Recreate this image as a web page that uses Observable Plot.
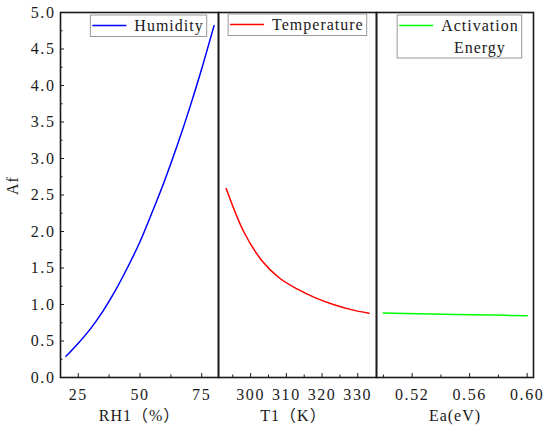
<!DOCTYPE html>
<html>
<head>
<meta charset="utf-8">
<script src="https://cdn.jsdelivr.net/npm/d3@7"></script>
<script src="https://cdn.jsdelivr.net/npm/@observablehq/plot@0.6"></script>
<style>
  html, body { margin: 0; padding: 0; background: #fff; }
  #chart { position: relative; width: 550px; height: 435px; overflow: hidden; background: #fff; }
  #chart svg { position: absolute; top: 0; overflow: visible; }
  #chart svg text { letter-spacing: 1px; }
  #chart svg g[aria-label$="tick label"] text { letter-spacing: 1.6px; }
</style>
</head>
<body>
<div id="chart"></div>
<script>
// Acceleration factor Af against each stress variable
const humidity = [20, 25, 30, 35, 40, 45, 50, 55, 60, 65, 70, 75, 80];
const humidityAf = [0.29, 0.47, 0.67, 0.91, 1.19, 1.51, 1.86, 2.27, 2.70, 3.17, 3.68, 4.23, 4.82];

const temperature = [293.15, 298.15, 303.15, 308.15, 313.15, 318.15, 323.15, 328.15, 333.15];
const temperatureAf = [2.59, 1.99, 1.60, 1.36, 1.21, 1.09, 1.00, 0.93, 0.88];

const energy = [0.50, 0.525, 0.55, 0.575, 0.60];
const energyAf = [0.882, 0.873, 0.864, 0.855, 0.846];

// Axis ticks
const afTicks = [0, 0.5, 1, 1.5, 2, 2.5, 3, 3.5, 4, 4.5, 5];
const afMinor = [0.25, 0.75, 1.25, 1.75, 2.25, 2.75, 3.25, 3.75, 4.25, 4.75];
const rhTicks = [25, 50, 75];
const rhMinor = [37.5, 62.5];
const tTicks = [300, 310, 320, 330];
const tMinor = [295, 305, 315, 325];
const eaTicks = [0.52, 0.56, 0.60];
const eaMinor = [0.50, 0.54, 0.58];

const FONT = '"Liberation Serif", "Times New Roman", "Noto Sans CJK SC", serif';
const INK = "#1a1a1a";
const HEIGHT = 435, MT = 12, MB = 58;
const chart = document.getElementById("chart");

function addLegend(node, {frameRight, gap, top, labels, color}) {
  const g = d3.select(node).append("g");
  const lineH = 21.5, padL = 2, lineLen = 34, gapT = 8, padR = 3;
  const t = g.append("text")
    .attr("font-size", 16)
    .attr("fill", INK)
    .attr("text-anchor", "middle");
  labels.forEach((s, i) =>
    t.append("tspan").attr("x", 0).attr("y", top + 10.5 + i * lineH).attr("dy", "0.35em").text(s));
  const tw = t.node().getBBox().width;
  const right = frameRight - gap;
  const boxW = padL + lineLen + gapT + tw + padR;
  const left = right - boxW;
  const h = 21.5 + (labels.length - 1) * lineH;
  t.selectAll("tspan").attr("x", left + padL + lineLen + gapT + tw / 2);
  g.insert("rect", "text")
    .attr("x", left).attr("y", top).attr("width", boxW).attr("height", h)
    .attr("fill", "#fff").attr("stroke", "#999").attr("stroke-width", 1);
  g.insert("line", "text")
    .attr("x1", left + padL).attr("x2", left + padL + lineLen)
    .attr("y1", top + 10.5).attr("y2", top + 10.5)
    .attr("stroke", color).attr("stroke-width", 1.5);
}

// Inward-pointing tick marks along the bottom edge
function bottomTicks(values, x0, len) {
  return Plot.ruleX(values, {x: d => d, y1: 0, y2: 0, insetTop: -len, stroke: INK, strokeWidth: 1});
}
// Inward-pointing tick marks along the left edge
function leftTicks(values, xMin, len) {
  return Plot.ruleY(values, {y: d => d, x1: xMin, x2: xMin, insetRight: -len, stroke: INK, strokeWidth: 1});
}

function panel({left, width, marginLeft, marginRight, domain, ticks, minor, format, title, titleDx = 0,
                xs, ys, color, legend, yAxis}) {
  const data = xs.map((x, i) => ({x, af: ys[i]}));
  const marks = [
    Plot.line(data, {x: "x", y: "af", stroke: color, strokeWidth: 1.5, curve: "catmull-rom"}),
    bottomTicks(ticks, domain[0], 4),
    bottomTicks(minor, domain[0], 2.5),
    Plot.axisX(ticks, {tickSize: 0, tickPadding: 11, tickFormat: format, label: null, fill: INK}),
    Plot.text([title], {text: d => d, frameAnchor: "bottom", dy: 43, dx: titleDx, fill: INK}),
    Plot.frame({stroke: INK, strokeWidth: 1.6})
  ];
  if (yAxis) {
    marks.push(
      leftTicks(afTicks, domain[0], 4),
      leftTicks(afMinor, domain[0], 2.5),
      Plot.axisY(afTicks, {tickSize: 0, tickPadding: 5, tickFormat: d3.format(".1f"), label: null, fill: INK}),
      Plot.text(["Af"], {text: d => d, frameAnchor: "left", dx: -48, rotate: -90, fill: INK})
    );
  }
  const svg = Plot.plot({
    width, height: HEIGHT,
    marginTop: MT, marginBottom: MB, marginLeft, marginRight,
    x: {domain, label: null},
    y: {domain: [0, 5], label: null, axis: yAxis ? undefined : null},
    style: {fontFamily: FONT, fontSize: "16px", color: INK, background: "transparent", overflow: "visible"},
    marks
  });
  svg.style.left = left + "px";
  chart.appendChild(svg);
  addLegend(svg, {...legend, frameRight: width - marginRight, color});
}

panel({
  left: 0, width: 218, marginLeft: 60, marginRight: 0,
  domain: [17.8, 81.8], ticks: rhTicks, minor: rhMinor, format: d3.format("d"),
  title: "RH1（%）", xs: humidity, ys: humidityAf, color: "#0000ff",
  legend: {gap: 11.3, top: 15, labels: ["Humidity"]}, yAxis: true
});

panel({
  left: 218, width: 158, marginLeft: 0, marginRight: 0,
  domain: [291.0, 335.25], ticks: tTicks, minor: tMinor, format: d3.format("d"),
  title: "T1（K）", titleDx: -4, xs: temperature, ys: temperatureAf, color: "#ff0000",
  legend: {gap: 9.3, top: 14, labels: ["Temperature"]}, yAxis: false
});

panel({
  left: 376, width: 174, marginLeft: 0, marginRight: 17,
  domain: [0.4952, 0.6044], ticks: eaTicks, minor: eaMinor, format: d3.format(".2f"),
  title: "Ea(eV)", xs: energy, ys: energyAf, color: "#00ff00",
  legend: {gap: 11.3, top: 15, labels: ["Activation", "Energy"]}, yAxis: false
});
</script>
</body>
</html>
